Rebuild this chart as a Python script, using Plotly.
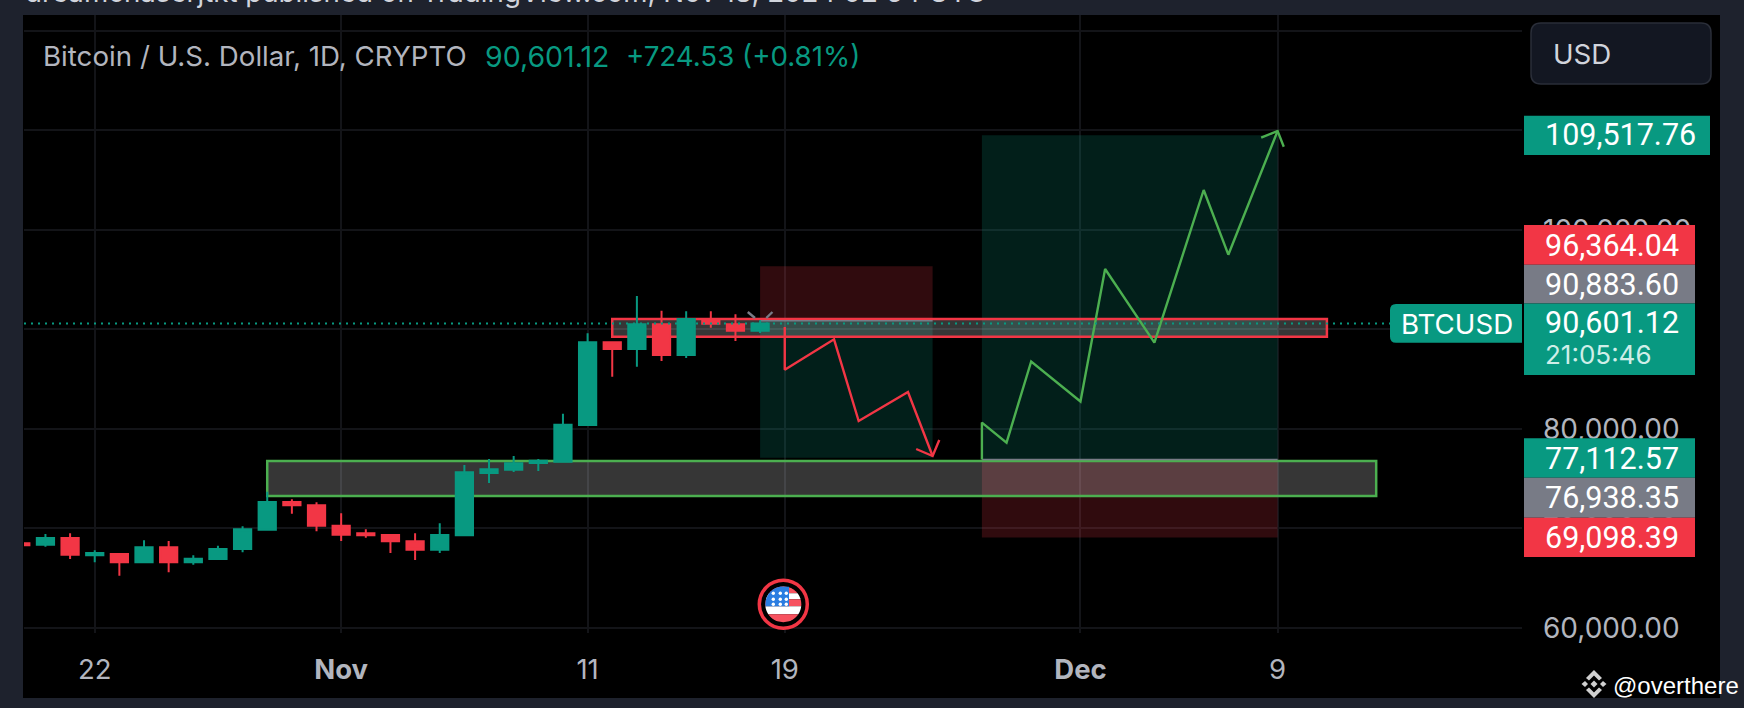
import numpy as np
import plotly.graph_objects as go

W, H = 1744, 708
FONT = "Inter"
GREEN = "#089981"
RED = "#f23645"
LINE_GREEN = "#4caf50"
GREY = "#787b86"
TEXT = "#b2b5be"
GRID = "#131418"

# daily candles
dates = ["2024-10-19", "2024-10-20", "2024-10-21", "2024-10-22", "2024-10-23", "2024-10-24",
         "2024-10-25", "2024-10-26", "2024-10-27", "2024-10-28", "2024-10-29", "2024-10-30",
         "2024-10-31", "2024-11-01", "2024-11-02", "2024-11-03", "2024-11-04", "2024-11-05",
         "2024-11-06", "2024-11-07", "2024-11-08", "2024-11-09", "2024-11-10", "2024-11-11",
         "2024-11-12", "2024-11-13", "2024-11-14", "2024-11-15", "2024-11-16", "2024-11-17",
         "2024-11-18"]
opens = [68512, 68372, 69045, 67306, 67437, 66603, 68110, 66603, 66935, 67940, 69879, 72663,
         72331, 70281, 69517, 69347, 68713, 67869, 69316, 75578, 75909, 76583, 76713, 80402,
         88713, 88040, 90522, 87437, 91024, 90522, 89876.59]
highs = [68543, 69447, 69517, 67809, 67437, 68814, 68744, 67306, 68271, 70221, 73698, 72934,
         72633, 71527, 69919, 69347, 69517, 70522, 76382, 76985, 77286, 76985, 81537, 89617,
         88743, 93366, 91889, 91828, 91828, 91527, 90924]
lows = [68241, 68171, 66935, 66603, 65256, 66502, 65598, 66362, 66904, 67608, 69779, 71487,
        69718, 68744, 69075, 67538, 66834, 67538, 69316, 74573, 75678, 75779, 76613, 80331,
        85256, 86261, 86834, 87135, 90180, 88844, 89648]
closes = [68311, 69045, 67367, 67538, 66603, 68110, 66603, 66965, 67940, 69919, 72663, 72331,
          70281, 69377, 69316, 68713, 67869, 69347, 75648, 75949, 76552, 76814, 80432, 88713,
          88040, 90522, 87437, 91055, 90582, 89879, 90601.12]

last_price = 90601.12

# drawn projections
red_path_x = ["2024-11-19", "2024-11-19", "2024-11-21", "2024-11-22", "2024-11-24", "2024-11-25"]
red_path_y = [90250, 85959, 89014, 80803, 83718, 77286]
red_head_x = ["2024-11-24 08:00", "2024-11-25", "2024-11-25 06:30"]
red_head_y = [77990, 77286, 78894]

green_path_x = ["2024-11-27", "2024-11-27", "2024-11-28", "2024-11-29", "2024-12-01", "2024-12-02",
                "2024-12-04", "2024-12-06", "2024-12-07", "2024-12-09"]
green_path_y = [76938, 80643, 78633, 86783, 82763, 96080, 88683, 104019, 97517, 109950]
green_head_x = ["2024-12-08 08:00", "2024-12-09", "2024-12-09 06:00"]
green_head_y = [109275, 109950, 108371]

tick_left_x = ["2024-11-17 12:00", "2024-11-17 19:00"]
tick_right_x = ["2024-11-18 06:00", "2024-11-18 12:00"]
tick_left_y = [91758, 91155]
tick_right_y = [91155, 91758]

# zones and position tools
short_x = ["2024-11-18", "2024-11-25"]
short_stop, short_entry, short_target = 96364.04, 90883.60, 77112.57
long_x = ["2024-11-27", "2024-12-09"]
long_target, long_entry, long_stop = 109517.76, 76938.35, 69098.39
support_x = ["2024-10-29", "2024-12-13"]
support_y = [73266, 76783]
resist_x = ["2024-11-12", "2024-12-11"]
resist_y = [89276, 91055]

# axes
x_range = ["2024-10-19 03:07", "2024-12-18 22:00"]
y_range = [59497, 121606]
x_ticks = ["2024-10-22", "2024-11-01", "2024-11-11", "2024-11-19", "2024-12-01", "2024-12-09"]
x_labels = ["22", "<b>Nov</b>", "11", "19", "<b>Dec</b>", "9"]
y_ticks = [60000, 70000, 80000, 90000, 100000, 110000, 120000]
y_labels = ["60,000.00", "70,000.00", "80,000.00", "", "100,000.00", "", ""]


def fx(x):
    return x / W


def fy(y):
    return 1 - y / H


def box(x0, y0, x1, y1, fill, layer="above", line=None):
    return dict(type="rect", xref="paper", yref="paper", x0=fx(x0), x1=fx(x1), y0=fy(y0), y1=fy(y1),
                fillcolor=fill, line=dict(width=0) if line is None else line, layer=layer)


def poly(points, fill):
    d = "M " + " L ".join(f"{fx(x):.5f},{fy(y):.5f}" for x, y in points) + " Z"
    return dict(type="path", xref="paper", yref="paper", path=d, fillcolor=fill, line=dict(width=0), layer="above")


def round_rect(x0, y0, x1, y1, r, fill, line, corners="all"):
    rl = r
    rr = r if corners == "all" else 0
    d = (f"M {fx(x0 + rl)},{fy(y0)} L {fx(x1 - rr)},{fy(y0)} Q {fx(x1)},{fy(y0)} {fx(x1)},{fy(y0 + rr)} "
         f"L {fx(x1)},{fy(y1 - rr)} Q {fx(x1)},{fy(y1)} {fx(x1 - rr)},{fy(y1)} "
         f"L {fx(x0 + rl)},{fy(y1)} Q {fx(x0)},{fy(y1)} {fx(x0)},{fy(y1 - rl)} "
         f"L {fx(x0)},{fy(y0 + rl)} Q {fx(x0)},{fy(y0)} {fx(x0 + rl)},{fy(y0)} Z")
    return dict(type="path", xref="paper", yref="paper", path=d, fillcolor=fill, line=line, layer="above")


def label(x, y, text, color="#ffffff", size=27.7, family=FONT, anchor="left"):
    return dict(xref="paper", yref="paper", x=fx(x), y=fy(y), text=text, showarrow=False, xanchor=anchor,
                yanchor="middle", font=dict(family=family, size=size, color=color), borderpad=0)


def price(y, text):
    return label(1544, y, text, size=30.5, family="Roboto")


def zone(xs, y0, y1, fill, border=None):
    return dict(type="rect", xref="x", yref="y", x0=xs[0], x1=xs[1], y0=y0, y1=y1, fillcolor=fill,
                line=dict(width=0) if border is None else dict(color=border, width=2.5), layer="between")


def stripe(cx, cy, r, y0, y1, fill):
    # horizontal band of a circle
    ys = [y0 + (y1 - y0) * i / 8 for i in range(9)]
    right = [(cx + np.sqrt(max(r * r - v * v, 0)), cy + v) for v in ys]
    left = [(cx - np.sqrt(max(r * r - v * v, 0)), cy + v) for v in reversed(ys)]
    return poly(right + left, fill)


fig = go.Figure()

fig.add_trace(go.Candlestick(
    x=dates, open=opens, high=highs, low=lows, close=closes,
    increasing=dict(line=dict(color=GREEN, width=2), fillcolor=GREEN),
    decreasing=dict(line=dict(color=RED, width=2), fillcolor=RED),
    whiskerwidth=0, showlegend=False,
))

for xs, ys, color in [(red_path_x, red_path_y, RED), (red_head_x, red_head_y, RED),
                      (green_path_x, green_path_y, LINE_GREEN), (green_head_x, green_head_y, LINE_GREEN),
                      (tick_left_x, tick_left_y, GREY), (tick_right_x, tick_right_y, GREY)]:
    fig.add_trace(go.Scatter(x=xs, y=ys, mode="lines", line=dict(color=color, width=2.4), showlegend=False))

shapes = [
    box(23, 15, 1720, 698, "#000000", layer="below"),
    # position tools
    zone(short_x, short_entry, short_stop, "rgba(242,54,69,0.2)"),
    zone(short_x, short_target, short_entry, "rgba(8,153,129,0.2)"),
    zone(long_x, long_entry, long_target, "rgba(8,153,129,0.2)"),
    zone(long_x, long_stop, long_entry, "rgba(242,54,69,0.2)"),
    # zones
    zone(support_x, support_y[0], support_y[1], "rgba(255,255,255,0.21)", LINE_GREEN),
    zone(resist_x, resist_y[0], resist_y[1], "rgba(255,255,255,0.21)", RED),
    dict(type="line", xref="x", yref="y", x0=short_x[0], x1=short_x[1], y0=short_entry, y1=short_entry,
         line=dict(color=GREY, width=1.5), layer="between"),
    dict(type="line", xref="x", yref="y", x0=long_x[0], x1=long_x[1], y0=long_entry, y1=long_entry,
         line=dict(color=GREY, width=1.5), layer="between"),
    # last price line
    dict(type="line", xref="paper", yref="y", x0=fx(24), x1=fx(1390), y0=last_price, y1=last_price,
         line=dict(color=GREEN, width=2, dash="2px,5px"), layer="above"),
    # price labels
    box(1524, 115.7, 1710, 155, GREEN),
    box(1524, 225, 1695, 264.7, RED),
    box(1524, 264.7, 1695, 303.6, GREY),
    box(1524, 303.6, 1695, 375, GREEN),
    box(1524, 438.3, 1695, 477.7, GREEN),
    box(1524, 477.7, 1695, 517.7, GREY),
    box(1524, 517.7, 1695, 557, RED),
    round_rect(1390, 304, 1522, 342.7, 6, GREEN, dict(width=0), corners="left"),
    round_rect(1531, 23, 1711, 84, 10, "#131722", dict(color="#2a2e39", width=1.5)),
]

# flag badge
cx, cy = 783.3, 604.3
shapes.append(dict(type="circle", xref="paper", yref="paper", x0=fx(cx - 24), x1=fx(cx + 24),
                   y0=fy(cy - 24), y1=fy(cy + 24), fillcolor="#000000", line=dict(color=RED, width=3.5), layer="above"))
for y0, y1, col in [(-18, -11, "#f7525f"), (-11, -5, "#ffffff"), (-5, 2, "#f7525f"), (2, 10, "#ffffff"), (10, 18, "#f7525f")]:
    shapes.append(stripe(cx, cy, 18, y0, y1, col))
canton = [(cx + 5.7, cy - 17.5), (cx + 5.7, cy + 2), (cx - 17.6, cy + 2)]
canton += [(cx + 18 * np.cos(a), cy + 18 * np.sin(a)) for a in np.linspace(np.pi * 1.0, np.pi * 1.45, 8)]
shapes.append(poly(canton, "#2b7de1"))
for sx in (-10, -3, 3):
    for sy in (-11, -5, 0):
        shapes.append(dict(type="circle", xref="paper", yref="paper", x0=fx(cx + sx - 1.7), x1=fx(cx + sx + 1.7),
                           y0=fy(cy + sy - 1.7), y1=fy(cy + sy + 1.7), fillcolor="#ffffff", line=dict(width=0), layer="above"))

# exchange logo
lx, ly = 1594, 684
shapes.append(poly([(lx, ly - 3.5), (lx + 3.5, ly), (lx, ly + 3.5), (lx - 3.5, ly)], "#d0d0d0"))
shapes.append(poly([(lx - 9, ly - 3), (lx - 6, ly), (lx - 9, ly + 3), (lx - 12.5, ly)], "#d0d0d0"))
shapes.append(poly([(lx + 9, ly - 3), (lx + 12.5, ly), (lx + 9, ly + 3), (lx + 6, ly)], "#d0d0d0"))
shapes.append(poly([(lx, ly - 14), (lx + 8, ly - 6), (lx + 5, ly - 3.5), (lx, ly - 8.5), (lx - 5, ly - 3.5), (lx - 8, ly - 6)], "#d0d0d0"))
shapes.append(poly([(lx, ly + 14), (lx + 8, ly + 6), (lx + 5, ly + 3.5), (lx, ly + 8.5), (lx - 5, ly + 3.5), (lx - 8, ly + 6)], "#d0d0d0"))

annotations = [
    label(24, -8, "dreamchaserjtkt published on TradingView.com, Nov 18, 2024 02:54 UTC", color="#d1d4dc"),
    label(42, 56, "Bitcoin / U.S. Dollar, 1D, CRYPTO", color=TEXT),
    label(484, 56, "90,601.12", color=GREEN, size=28.5),
    label(625, 56, "+724.53 (+0.81%)", color=GREEN),
    label(1552, 54, "USD", color="#d1d4dc"),
    price(135, "109,517.76"),
    price(245, "96,364.04"),
    price(284, "90,883.60"),
    price(322, "90,601.12"),
    label(1544, 355, "21:05:46", color="#cfeee8", size=26),
    price(458, "77,112.57"),
    price(497.5, "76,938.35"),
    price(537.5, "69,098.39"),
    label(1400, 323.5, "BTCUSD"),
    label(1612, 685, "@overthere", size=24, family="Liberation Sans"),
]

fig.update_xaxes(
    type="date", domain=[fx(24), fx(1522)], range=x_range, rangeslider_visible=False,
    tickmode="array", tickvals=x_ticks, ticktext=x_labels, showgrid=True, gridcolor=GRID, gridwidth=2,
    ticks="", tickfont=dict(family=FONT, size=27.5, color=TEXT), ticklabelstandoff=17, zeroline=False, showline=False,
)
fig.update_yaxes(
    side="right", domain=[fy(633), fy(15)], range=y_range,
    tickmode="array", tickvals=y_ticks, ticktext=y_labels, showgrid=True, gridcolor=GRID, gridwidth=2,
    ticks="", tickfont=dict(family=FONT, size=28, color=TEXT), ticklabelstandoff=20, zeroline=False, showline=False,
)
fig.update_layout(
    width=W, height=H, autosize=False, margin=dict(l=0, r=0, t=0, b=0, pad=0, autoexpand=False),
    paper_bgcolor="#1e222d", plot_bgcolor="rgba(0,0,0,0)", showlegend=False,
    boxgap=0.3, boxgroupgap=0, shapes=shapes, annotations=annotations,
)
fig.write_html("out.html", config=dict(displayModeBar=False),
               post_script="document.body.style.margin='0';document.documentElement.style.overflow='hidden';")
